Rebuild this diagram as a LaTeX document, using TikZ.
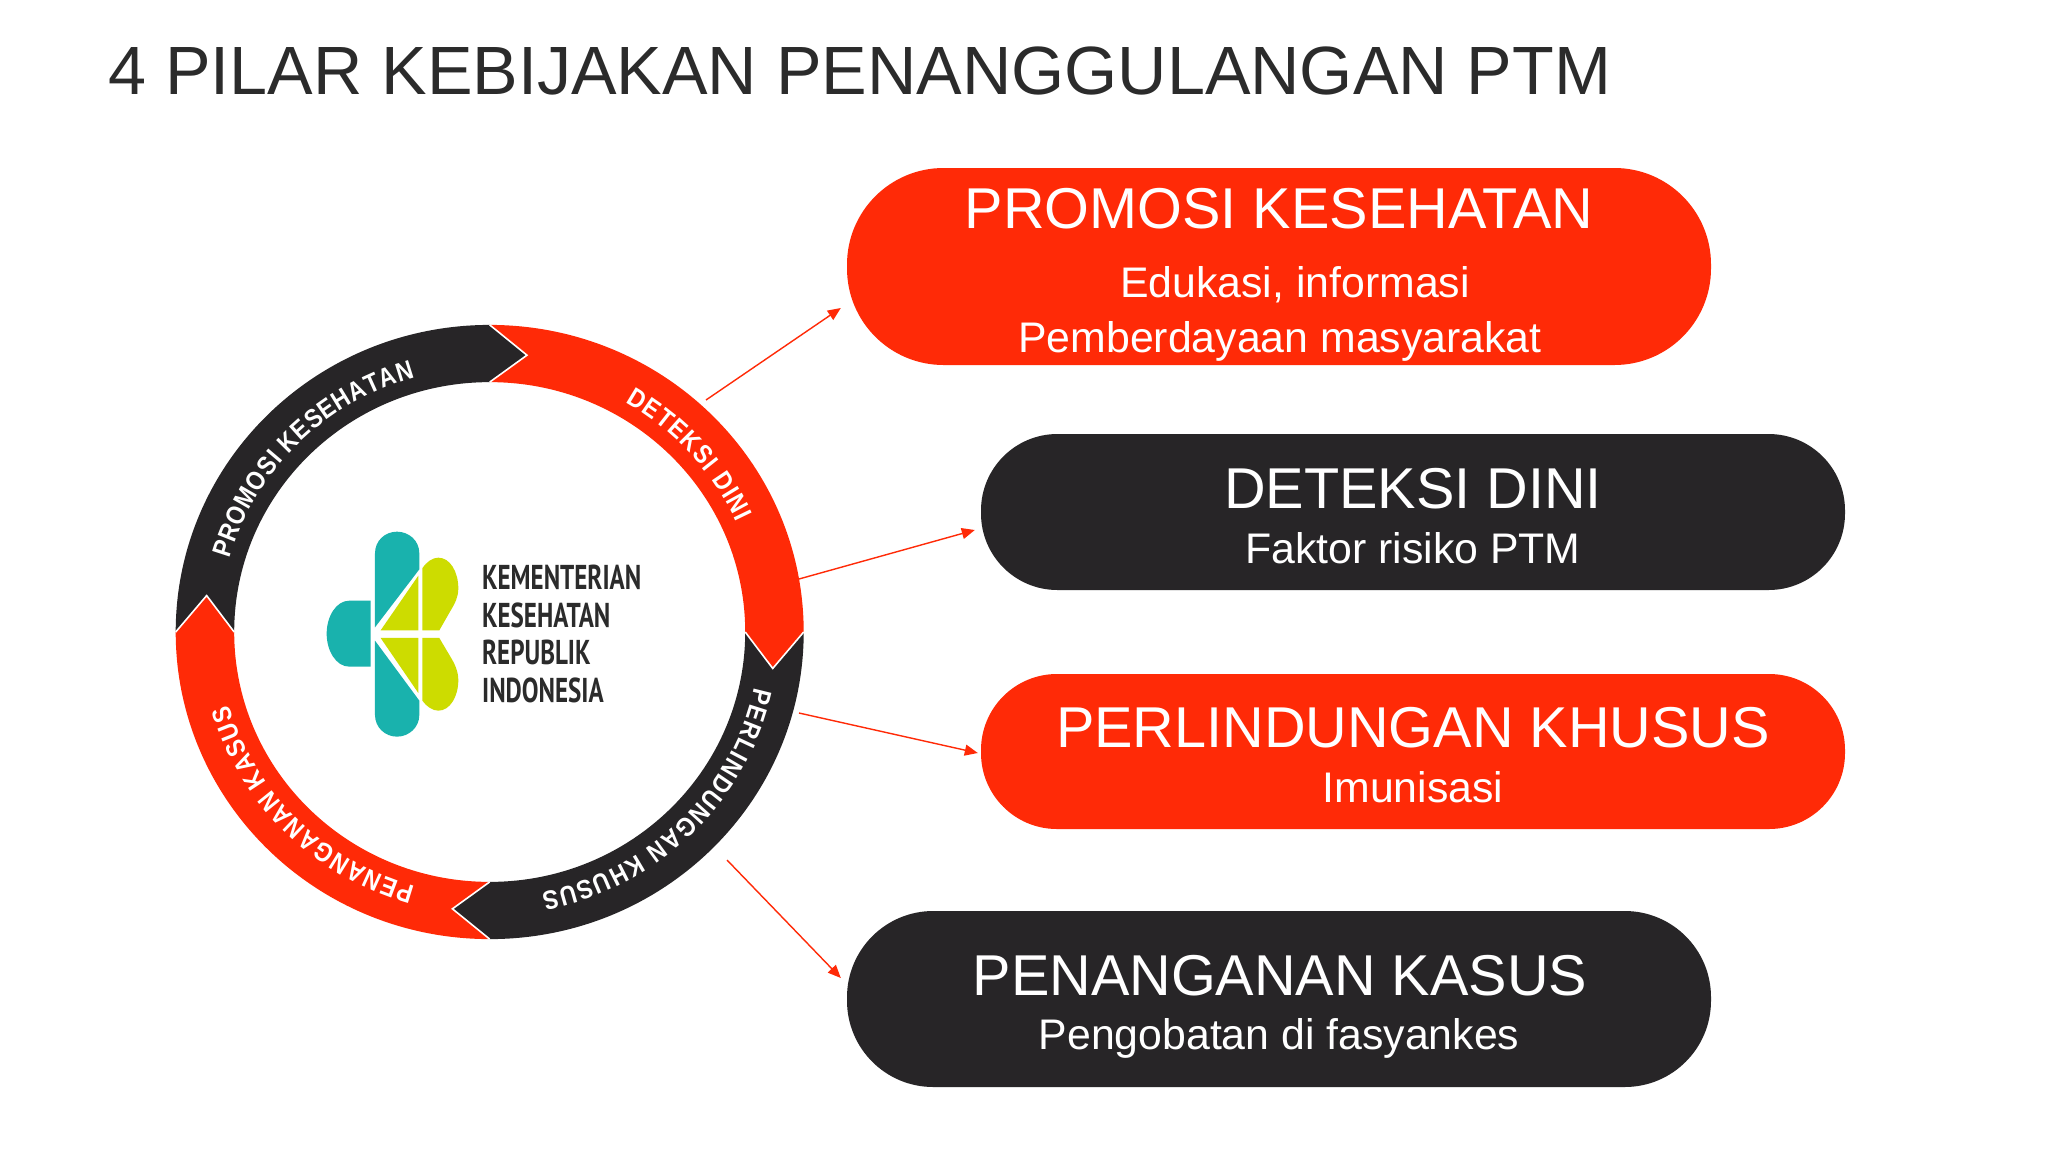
\documentclass[tikz,border=0pt]{standalone}
\usepackage{fontspec}
\setmainfont{Liberation Sans}
\newfontfamily\logofont{PT Sans}
\newfontfamily\ringfont[FakeStretch=0.87]{Liberation Sans Bold}
\usetikzlibrary{arrows.meta,decorations.text,calc}
\definecolor{pred}{HTML}{FF2A07}
\definecolor{pdark}{HTML}{272527}
\definecolor{ptitle}{HTML}{2B2B2B}
\definecolor{pteal}{HTML}{19B2AD}
\definecolor{plime}{HTML}{CDDC00}
\newcommand{\RO}{314}
\newcommand{\RI}{255.5}
\newcommand{\RC}{285.5}
\newcommand{\seg}[3]{% colour, start angle, end angle (clockwise)
  \fill[#1] (#2:\RO) arc[start angle=#2,end angle=#3,radius=\RO]
    -- ({#3-7.5}:\RC) -- (#3:\RI)
    arc[start angle=#3,end angle=#2,radius=\RI]
    -- ({#2-7.5}:\RC) -- cycle;}
\newcommand{\chev}[1]{\draw[ringsep] (#1:\RO) -- ({#1-7.5}:\RC) -- (#1:\RI);}
\newcommand{\ringtext}[3]{% start, end, text
  \path[decorate,decoration={text along path,
    text={|\color{white}\ringfont\fontsize{26.5}{26.5}\selectfont|#3},text align=fit to path}]
    (#1:271) arc[start angle=#1,end angle=#2,radius=271];}
\tikzset{
  x=1pt,y=-1pt,
  pillbox/.style={minimum height=#1,inner sep=0pt,draw=none,rounded corners=0.49*#1},
  redbox/.style={pillbox=#1,fill=pred},
  darkbox/.style={pillbox=#1,fill=pdark},
  headtext/.style={anchor=base,text=white,inner sep=0pt,font=\fontsize{57.6}{57.6}\selectfont},
  subtext/.style={anchor=base,text=white,inner sep=0pt,font=\fontsize{42.8}{42.8}\selectfont},
  pointer/.style={draw=pred,line width=1.4pt,-{Triangle[length=13pt,width=11pt]}},
  ringsep/.style={draw=white,line width=1.6pt,line join=miter},
}
\begin{document}
\begin{tikzpicture}
\useasboundingbox[fill=white] (0,0) rectangle (2048,1152);
\node[anchor=base west,inner sep=0pt,text=ptitle,font=\fontsize{68.3}{68.3}\selectfont] (title) at (108,94) {4 PILAR KEBIJAKAN PENANGGULANGAN PTM};

% boxes
\node[redbox=197pt,minimum width=864pt] (box1) at (1279,266.5) {};
\node[darkbox=156pt,minimum width=864pt] (box2) at (1413,512) {};
\node[redbox=155pt,minimum width=864pt] (box3) at (1413,751.5) {};
\node[darkbox=176pt,minimum width=864pt] (box4) at (1279,999) {};

\node[headtext] (h1) at (1279,228) {PROMOSI KESEHATAN};
\node[subtext] (s1a) at (1295,297) {Edukasi, informasi};
\node[subtext] (s1b) at (1280,352) {Pemberdayaan masyarakat};
\node[headtext] (h2) at (1413,508) {DETEKSI DINI};
\node[subtext] (s2) at (1413,563) {Faktor risiko PTM};
\node[headtext] (h3) at (1413,747) {PERLINDUNGAN KHUSUS};
\node[subtext] (s3) at (1413,802) {Imunisasi};
\node[headtext] (h4) at (1280,995) {PENANGANAN KASUS};
\node[subtext] (s4) at (1279,1049) {Pengobatan di fasyankes};

% ring
\begin{scope}[x=1pt,y=1pt,shift={(489.7pt,-632pt)},yscale=0.978]
  \seg{pdark}{180}{90}
  \seg{pred}{90}{0}
  \seg{pdark}{0}{-90}
  \seg{pred}{-90}{-180}
  \chev{90}\chev{0}\chev{-90}\chev{180}
  \ringtext{164}{106}{PROMOSI KESEHATAN}
  \ringtext{60}{24.5}{DETEKSI DINI}
  \ringtext{-12}{-79}{PERLINDUNGAN KHUSUS}
  \ringtext{-106}{-164}{PENANGANAN KASUS}
\end{scope}

% connectors
\coordinate (a1) at (706,400);
\coordinate (a2) at (799,579);
\coordinate (a3) at (799,713);
\coordinate (a4) at (727,860);
\coordinate (e1) at ([xshift=-6pt,yshift=-41.5pt]box1.west);
\coordinate (e2) at ([xshift=-6pt,yshift=-18pt]box2.west);
\coordinate (e3) at ([xshift=-3pt,yshift=-1.5pt]box3.west);
\coordinate (e4) at ([xshift=-6pt,yshift=21pt]box4.west);
\draw[pointer] (a1) -- (e1);
\draw[pointer] (a2) -- (e2);
\draw[pointer] (a3) -- (e3);
\draw[pointer] (a4) -- (e4);

% logo
\begin{scope}[shift={(310pt,-510pt)},x=0.3333pt,y=-0.3333pt]
  \fill[pteal] (182,272) -- (118,272) .. controls (78,272) and (50,320) .. (50,371)
     .. controls (50,422) and (78,470) .. (118,470) -- (182,470) -- cycle;
  \fill[pteal] (195,352) -- (195,130) .. controls (195,92) and (225,65) .. (261,65)
     .. controls (297,65) and (328,92) .. (328,130) -- (328,178) -- cycle;
  \fill[pteal] (195,392) -- (195,615) .. controls (195,652) and (225,680) .. (261,680)
     .. controls (297,680) and (328,652) .. (328,615) -- (328,572) -- cycle;
  \fill[plime] (212,361) -- (325,197) -- (325,361) -- cycle;
  \fill[plime] (212,384) -- (325,384) -- (325,549) -- cycle;
  \fill[plime] (337,361) -- (337,175) .. controls (350,155) and (368,143) .. (385,143)
     .. controls (420,143) and (445,185) .. (445,235)
     .. controls (445,262) and (435,280) .. (420,305) -- (388,361) -- cycle;
  \fill[plime] (337,384) -- (388,384) -- (420,438)
     .. controls (435,462) and (445,485) .. (445,510)
     .. controls (445,560) and (420,602) .. (385,602)
     .. controls (368,602) and (350,590) .. (337,572) -- cycle;
\end{scope}
\node[anchor=west,inner sep=0pt,align=left,text=ptitle,xscale=0.725,font=\logofont\bfseries\fontsize{34.5}{37.4}\selectfont] (logotext) at (482,634) {KEMENTERIAN\\KESEHATAN\\REPUBLIK\\INDONESIA};
\end{tikzpicture}
\end{document}
